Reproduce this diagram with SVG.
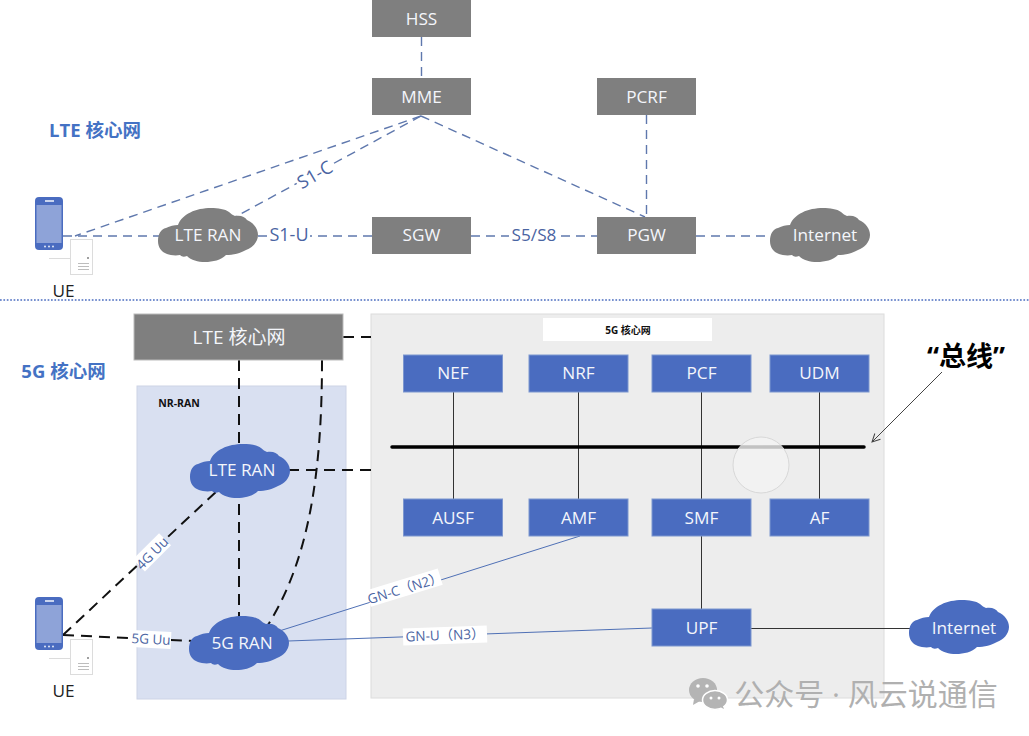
<svg xmlns="http://www.w3.org/2000/svg" width="1029" height="736" viewBox="0 0 1029 736">
<style>
text{font-family:"Open Sans","Noto Sans CJK SC","Noto Sans",sans-serif;text-anchor:middle;font-size:17.200px}
.w{fill:#f4f6fb}
.g{fill:#7f7f7f}
.b{fill:#4a6cc0;stroke:#7d97cf;stroke-width:1}
.d{fill:none;stroke:#5f78ad;stroke-width:1.4;stroke-dasharray:9 6}
.k{fill:none;stroke:#111;stroke-width:2;stroke-dasharray:11 7}
.t{fill:none;stroke:#333;stroke-width:1}
.u{fill:none;stroke:#4f70b5;stroke-width:1}
.l{fill:#4a64a2}
.h{fill:#4472c4;font-weight:700;font-size:18.500px}
</style>
<defs>
<path id="cloud" d="M20 17C24 6 38 0 53 0C60 0 67 1 71 4C73 6 75 7 77 8C83 7 87 9 89 12C96 15 100 21 100 27C100 34 94 40 88 42C83 45 75 47 68 47C63 52 55 54 47 54C40 54 33 52 29 48C26 49 24 49 22 47C17 48 12 47 9 46C3 44 0 39 0 33C0 26 3 21 8 20C12 18 16 17 20 17Z"/>
<g id="phone">
<rect x="0" y="0" width="28" height="53" rx="4" fill="#4a6cc0"/>
<rect x="1.5" y="8" width="25" height="38" fill="#8ea3d8"/>
<rect x="10" y="3" width="9" height="2" fill="#c9d4ee"/>
<circle cx="10" cy="49.500" r="1" fill="#dfe6f6"/><circle cx="14" cy="49.500" r="1" fill="#dfe6f6"/><circle cx="18" cy="49.500" r="1" fill="#dfe6f6"/>
</g>
<g id="server">
<path d="M0 19.500H21" stroke="#dcdcdc" stroke-width="1" fill="none"/>
<rect x="21.500" y="0.500" width="22" height="35" fill="#fff" stroke="#dcdcdc"/>
<circle cx="39" cy="19" r="1" fill="#7f7f7f"/>
<path d="M29 24.500H40M29 27.500H40M29 30.500H40" stroke="#bdbdbd" stroke-width="1" fill="none"/>
</g>
<marker id="arr" markerWidth="10" markerHeight="10" refX="9" refY="5" orient="auto" markerUnits="userSpaceOnUse"><path d="M1 1L9 5L1 9" fill="none" stroke="#444" stroke-width="1"/></marker>
</defs>
<rect width="1029" height="736" fill="#fff"/>
<g id="area-5gc"><rect x="371" y="314" width="513" height="384" fill="#ededed" stroke="#dcdcdc"/></g>
<g id="area-nr-ran"><rect x="137" y="386" width="209" height="313" fill="#d9e0f1" stroke="#cdd4e6"/></g>
<path id="divider" d="M0 300H1029" fill="none" stroke="#4a6cc0" stroke-width="1.6" stroke-dasharray="1.700 1.700"/>

<g id="connectors">
<path class="d" d="M421.500 37V78"/>
<path class="d" d="M646.500 115V217"/>
<path class="d" d="M63 236H372"/>
<path class="d" d="M471 236H597"/>
<path class="d" d="M696 236H790"/>
<path class="d" d="M421 116L75 236"/>
<path class="d" d="M421 116L235 217"/>
<path class="d" d="M421 116L645 217"/>
<path class="k" d="M343 337H371"/>
<path class="k" d="M239 360V620"/>
<path class="k" d="M322 360C322 470 310 560 266 628"/>
<path class="k" d="M288 470H371"/>
<path class="k" d="M63 635L218 490"/>
<path class="k" d="M63 635L195 641"/>
<path class="u" d="M276 632L580 536"/>
<path class="u" d="M288 641L652 628"/>
<path class="t" d="M453.500 392V499M578.500 392V499M701.500 392V499M819.500 392V499M701.500 536V609M751 628.500H912"/>
<path d="M392 447H864" fill="none" stroke="#000" stroke-width="3.500" stroke-linecap="round"/>
<path d="M942 372L872 442" fill="none" stroke="#444" stroke-width="1" marker-end="url(#arr)"/>
</g>
<circle id="pointer" cx="761" cy="465" r="28" fill="#f2f2f2" fill-opacity="0.800" stroke="#d8d8d8"/>

<g id="label-s1c"><rect x="295" y="164" width="40" height="22" fill="#fff" transform="rotate(-30 315 175)"/><text class="l" x="315" y="181" style="font-size:18px" transform="rotate(-30 315 175)">S1-C</text></g>
<g id="label-s1u"><rect x="269" y="224" width="41" height="22" fill="#fff"/><text class="l" x="289" y="241" style="font-size:18px">S1-U</text></g>
<g id="label-s5"><rect x="509" y="224" width="50" height="22" fill="#fff"/><text class="l" x="534" y="241">S5/S8</text></g>
<g id="label-4g"><rect x="134" y="544" width="37" height="17" fill="#fff" transform="rotate(-45 152 553)"/><text class="l" x="152" y="558" style="font-size:13.500px" transform="rotate(-45 152 553)">4G Uu</text></g>
<g id="label-5g"><rect x="132" y="631" width="39" height="17" fill="#fff" transform="rotate(3 151 639)"/><text class="l" x="151" y="644" style="font-size:13.500px" transform="rotate(3 151 639)">5G Uu</text></g>
<g id="label-n2"><rect x="367" y="579" width="75" height="17" fill="#fff" transform="rotate(-17 405 588)"/><text class="l" x="405" y="593" style="font-size:13.500px" transform="rotate(-17 405 588)">GN-C（N2）</text></g>
<g id="label-n3"><rect x="403" y="627" width="84" height="17" fill="#fff" transform="rotate(-2 445 635)"/><text class="l" x="445" y="640" style="font-size:13.500px" transform="rotate(-2 445 635)">GN-U（N3）</text></g>

<g id="hss"><rect class="g" x="372" y="0" width="99" height="37"/><text class="w" x="421.500" y="25">HSS</text></g>
<g id="mme"><rect class="g" x="372" y="78" width="99" height="37"/><text class="w" x="421.500" y="103">MME</text></g>
<g id="pcrf"><rect class="g" x="597" y="78" width="99" height="37"/><text class="w" x="646.500" y="103">PCRF</text></g>
<g id="sgw"><rect class="g" x="372" y="217" width="99" height="37"/><text class="w" x="421.500" y="241">SGW</text></g>
<g id="pgw"><rect class="g" x="597" y="217" width="99" height="37"/><text class="w" x="646.500" y="241">PGW</text></g>
<g id="lte-ran-top"><use href="#cloud" x="158" y="208" class="g"/><text class="w" x="208" y="241">LTE RAN</text></g>
<g id="internet-top"><use href="#cloud" x="770" y="208" class="g"/><text class="w" x="825" y="241">Internet</text></g>
<g id="ue-top"><use href="#phone" x="35" y="197"/><use href="#server" x="49" y="239"/><text x="63.500" y="297" fill="#222">UE</text></g>

<g id="lte-core"><rect class="g" x="134" y="314" width="209" height="46" stroke="#bbb"/><text class="w" x="239" y="344" style="font-size:19px">LTE 核心网</text></g>
<g id="lte-ran"><use href="#cloud" x="190" y="444" fill="#4a6cc0"/><text class="w" x="242" y="476">LTE RAN</text></g>
<g id="ran-5g"><use href="#cloud" x="189" y="616" fill="#4a6cc0"/><text class="w" x="242" y="649">5G RAN</text></g>
<g id="internet-bottom"><use href="#cloud" x="909" y="600" fill="#4a6cc0"/><text class="w" x="964" y="634">Internet</text></g>
<g id="ue-bottom"><use href="#phone" x="35" y="597"/><use href="#server" x="49" y="639"/><text x="63.500" y="697" fill="#222">UE</text></g>

<g id="nef"><rect class="b" x="403.500" y="355" width="99" height="37"/><text class="w" x="453" y="379">NEF</text></g>
<g id="nrf"><rect class="b" x="529" y="355" width="99" height="37"/><text class="w" x="578.500" y="379">NRF</text></g>
<g id="pcf"><rect class="b" x="652" y="355" width="99" height="37"/><text class="w" x="701.500" y="379">PCF</text></g>
<g id="udm"><rect class="b" x="770" y="355" width="99" height="37"/><text class="w" x="819.500" y="379">UDM</text></g>
<g id="ausf"><rect class="b" x="403.500" y="499" width="99" height="37"/><text class="w" x="453" y="524">AUSF</text></g>
<g id="amf"><rect class="b" x="529" y="499" width="99" height="37"/><text class="w" x="578.500" y="524">AMF</text></g>
<g id="smf"><rect class="b" x="652" y="499" width="99" height="37"/><text class="w" x="701.500" y="524">SMF</text></g>
<g id="af"><rect class="b" x="770" y="499" width="99" height="37"/><text class="w" x="819.500" y="524">AF</text></g>
<g id="upf"><rect class="b" x="652" y="609" width="99" height="37"/><text class="w" x="701.500" y="634">UPF</text></g>

<g id="label-5gc"><rect x="543" y="318" width="169" height="23" fill="#fff"/><text x="628" y="334" fill="#111" style="font-size:10px;font-weight:700">5G 核心网</text></g>
<text x="179" y="407" fill="#111" style="font-size:10.500px;font-weight:700">NR-RAN</text>
<text class="h" x="95" y="137">LTE 核心网</text>
<text class="h" x="63.500" y="378">5G 核心网</text>
<text x="966" y="366" fill="#000" style="font-size:27px;font-weight:700">“总线”</text>

<g id="watermark">
<ellipse cx="703" cy="690" rx="14" ry="12" fill="#b4b4b4"/>
<path d="M694 699L693 705L700 701Z" fill="#b4b4b4"/>
<ellipse cx="715" cy="700" rx="12.500" ry="9.500" fill="#b4b4b4" stroke="#fff" stroke-width="1.500"/>
<path d="M720 707L724 709L722 704Z" fill="#b4b4b4"/>
<circle cx="698" cy="686" r="1.800" fill="#fff"/><circle cx="707" cy="686" r="1.800" fill="#fff"/>
<circle cx="711" cy="698" r="1.500" fill="#fff"/><circle cx="719" cy="698" r="1.500" fill="#fff"/>
<text x="866" y="705" fill="#b0b0b0" style="font-size:30px">公众号 · 风云说通信</text>
</g>
</svg>
